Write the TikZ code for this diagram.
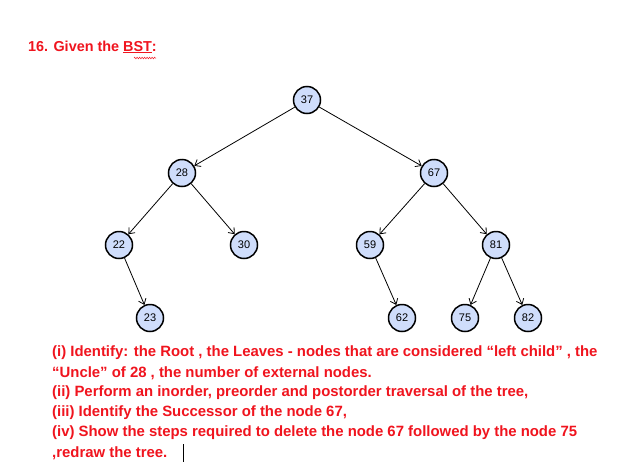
\documentclass[tikz,border=0pt]{standalone}
\usepackage{fontspec}
\setmainfont{Liberation Sans}
\usetikzlibrary{arrows.meta,decorations.pathmorphing}
\definecolor{nodefill}{HTML}{CFDDFB}
\definecolor{qred}{HTML}{F0141E}
\tikzset{
  bst/.style={circle,draw=black,line width=1.5pt,fill=nodefill,minimum size=27pt,inner sep=0pt,font=\fontsize{11}{13}\selectfont},
  edge/.style={-{Straight Barb[length=5pt,width=8pt]},line width=0.8pt},
  qtext/.style={anchor=west,text=qred,font=\bfseries\fontsize{14.9}{17}\selectfont,inner sep=0pt}
}
\begin{document}
\begin{tikzpicture}[x=1pt,y=-1pt]
\useasboundingbox[fill=white] (0,0) rectangle (624,469);
\node[qtext,font=\bfseries\fontsize{14.4}{16}\selectfont] (title) at (28,47) {16. Given the \underline{BST}:};
\coordinate (w1) at (134,58); \coordinate (w2) at (156,58);
\draw[qred,line width=0.5pt,decorate,decoration={zigzag,amplitude=0.8pt,segment length=2.5pt}] (w1) -- (w2);
\node[bst] (n37) at (307,100) {37};
\node[bst] (n28) at (182,173) {28};
\node[bst] (n67) at (434,173) {67};
\node[bst] (n22) at (119,245) {22};
\node[bst] (n30) at (244,245) {30};
\node[bst] (n59) at (370,245) {59};
\node[bst] (n81) at (496,245) {81};
\node[bst] (n23) at (150,318) {23};
\node[bst] (n62) at (402,318) {62};
\node[bst] (n75) at (465,318) {75};
\node[bst] (n82) at (528,318) {82};
\foreach \a/\b in {37/28,37/67,28/22,28/30,67/59,67/81,22/23,59/62,81/75,81/82}
  \draw[edge] (n\a) -- (n\b);
\node[qtext] (l1) at (52,353) {(i) Identify: the Root , the Leaves - nodes that are considered “left child” , the};
\node[qtext] (l2) at (52,373) {“Uncle” of 28 , the number of external nodes.};
\node[qtext] (l3) at (52,393) {(ii) Perform an inorder, preorder and postorder traversal of the tree,};
\node[qtext] (l4) at (52,413) {(iii) Identify the Successor of the node 67,};
\node[qtext] (l5) at (52,433) {(iv) Show the steps required to delete the node 67 followed by the node 75};
\node[qtext] (l6) at (52,453) {,redraw the tree.};
\coordinate (c1) at (183,444); \coordinate (c2) at (183,462);
\draw[line width=0.8pt] (c1) -- (c2);
\end{tikzpicture}
\end{document}
